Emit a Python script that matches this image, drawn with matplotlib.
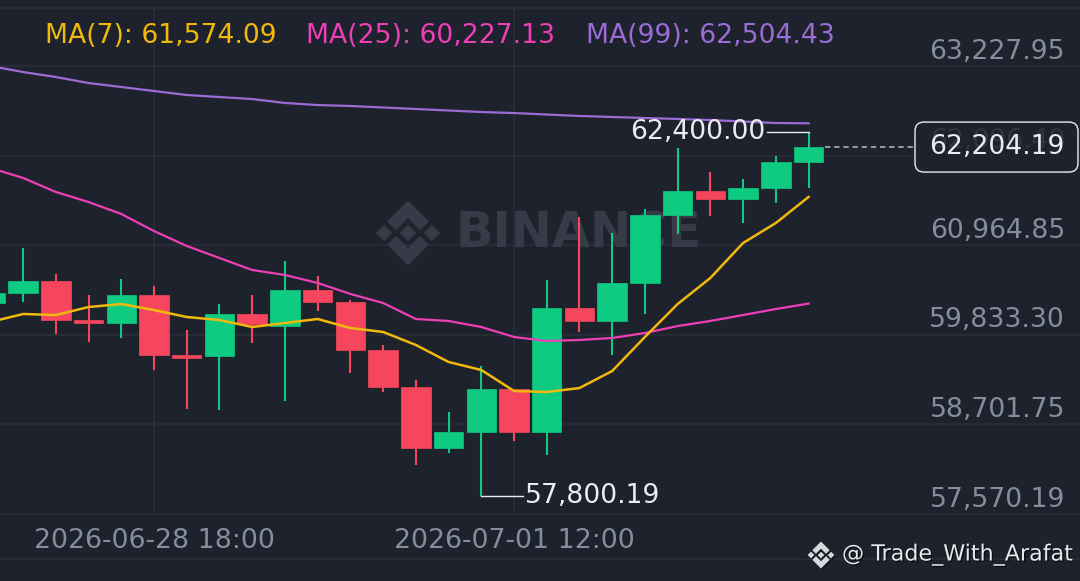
import matplotlib
matplotlib.use("Agg")
import matplotlib.pyplot as plt
import matplotlib.dates as mdates
import matplotlib.transforms as mtransforms
import matplotlib.patheffects as pe
from matplotlib.patches import FancyBboxPatch, Polygon
import numpy as np
import pandas as pd

# ---------------- data ----------------
times = pd.date_range("2026-06-27 12:00", periods=26, freq="6h")
opens = [60235, 60361, 60513, 60020, 59982, 60336, 59578, 59566, 60096, 59944,
         60399, 60248, 59641, 59174, 58404, 58606, 59149, 58606, 60172, 60008,
         60488, 61346, 61649, 61548, 61687, 62016]
highs = [60400, 60930, 60601, 60336, 60538, 60450, 59894, 60222, 60336, 60765,
         60576, 60273, 59705, 59263, 58858, 59439, 59155, 60525, 61321, 61119,
         61422, 62192, 61889, 61801, 62091, 62400.00]
lows = [60200, 60248, 59843, 59742, 59793, 59389, 58896, 58884, 59730, 58997,
        60134, 59351, 59111, 58189, 58341, 57800.19, 58492, 58315, 59869, 59578,
        60096, 61106, 61334, 61245, 61498, 61687]
closes = [60361, 60513, 60020, 59982, 60336, 59578, 59540, 60096, 59970, 60399,
          60248, 59641, 59174, 58404, 58606, 59149, 58606, 60172, 60008, 60488,
          61346, 61649, 61548, 61687, 62016, 62204.19]
ma7 = [59995, 60096, 60083, 60184, 60222, 60146, 60058, 60020, 59932, 59982,
       60033, 59919, 59869, 59705, 59490, 59389, 59124, 59111, 59161, 59376,
       59806, 60222, 60551, 60993, 61245, 61574.09]
ma25 = [61940, 61814, 61637, 61510, 61359, 61144, 60955, 60803, 60652, 60589,
        60488, 60349, 60235, 60033, 60008, 59932, 59806, 59755, 59768, 59793,
        59856, 59944, 60008, 60083, 60159, 60227.13]
ma99 = [63228, 63152, 63089, 63013, 62963, 62912, 62862, 62836, 62811, 62761,
        62735, 62723, 62704, 62685, 62666, 62647, 62634, 62615, 62597, 62584,
        62571, 62559, 62546, 62527, 62508, 62504.43]
price_ticks = [63227.95, 62096.40, 60964.85, 59833.30, 58701.75, 57570.19]
price_labels = ["63,227.95", "62,096.40", "60,964.85", "59,833.30", "58,701.75", "57,570.19"]
date_ticks = ["2026-06-28 18:00", "2026-07-01 12:00"]
legend_items = [("MA(7): 61,574.09", "#F0B90B"),
                ("MA(25): 60,227.13", "#EE3FB6"),
                ("MA(99): 62,504.43", "#9B6BD6")]
last_price = 62204.19
last_label = "62,204.19"
max_label = "62,400.00"
min_label = "57,800.19"
watermark_user = "@ Trade_With_Arafat"

# ---------------- style ----------------
BG = "#1E222D"
GRID = "#2B2F3B"
UP = "#0ECB81"
DOWN = "#F6465D"
AXTXT = "#848E9C"
WHITE = "#EAECEF"
WM = "#363B47"
FONT = "DejaVu Sans"

W, H = 1080, 581
fig = plt.figure(figsize=(W / 100, H / 100), dpi=100, facecolor=BG)
ax = fig.add_axes([0, 0, 1, 1])
ax.set_facecolor(BG)
ax.axis("off")

x = mdates.date2num(times.to_pydatetime())
step = x[1] - x[0]
px_per_day = 32.727 / step
t_ref = mdates.date2num(pd.Timestamp(date_ticks[1]).to_pydatetime())
ax.set_xlim(t_ref - 514 / px_per_day, t_ref + 566 / px_per_day)
ax.set_ylim(56724.0, 64061.5)

# pixel transform (top-left origin)
pix = mtransforms.Affine2D().scale(1 / W, -1 / H).translate(0, 1) + fig.transFigure

# grid
xl = ax.get_xlim()
ax.hlines(price_ticks, xl[0], xl[1], color=GRID, lw=1.1, zorder=1)
for yy in (8, 559):
    ax.add_line(plt.Line2D([0, W], [yy, yy], transform=pix, color=GRID, lw=1.1, zorder=1))
for d in date_ticks:
    xd = mdates.date2num(pd.Timestamp(d).to_pydatetime())
    ax.add_line(plt.Line2D([xd, xd], [price_ticks[-1], 63960], color=GRID, lw=1.1, zorder=1))
    ax.text(xd, 541, d, transform=mtransforms.blended_transform_factory(ax.transData, pix),
            ha="center", va="center", color=AXTXT, fontsize=19.3, family=FONT)

# binance logo helper
def logo(cx, cy, u, color, z, shadow=False):
    shapes = []
    def dia(px_, py_, r):
        return [(px_, py_ + r), (px_ + r, py_), (px_, py_ - r), (px_ - r, py_)]
    shapes.append(dia(0, 0, 0.25))
    shapes.append(dia(-0.74, 0, 0.25))
    shapes.append(dia(0.74, 0, 0.25))
    a, b = 0.645, 0.375
    top = [(0, 1.0), (a, 1 - a), (b, 0.46 - b), (0, 0.46), (-b, 0.46 - b), (-a, 1 - a)]
    shapes.append(top)
    shapes.append([(px_, -py_) for px_, py_ in top])
    for s in shapes:
        pts = [(cx + px_ * u, cy - py_ * u) for px_, py_ in s]
        p = Polygon(pts, closed=True, transform=pix, facecolor=color, edgecolor="none", zorder=z)
        if shadow:
            p.set_path_effects([pe.SimplePatchShadow(offset=(1, -1), shadow_rgbFace="black", alpha=0.5), pe.Normal()])
        ax.add_patch(p)

# watermark
logo(408, 233, 32.5, WM, 2)
ax.text(455, 234, "BINANCE", transform=pix, ha="left", va="center", color=WM,
        fontsize=35.5, fontweight="bold", family=FONT, zorder=2)

# candles
body_w = step * 0.9
for xi, o, h, l, c in zip(x, opens, highs, lows, closes):
    col = UP if c >= o else DOWN
    ax.vlines(xi, l, h, color=col, lw=1.5, zorder=3)
    bot = min(o, c)
    ht = max(abs(c - o), 12)
    ax.bar(xi, ht, bottom=bot, width=body_w, color=col, edgecolor=col, lw=0.5, zorder=3)

# moving averages
ax.plot(x, ma99, color=legend_items[2][1], lw=1.6, zorder=4, solid_joinstyle="round")
ax.plot(x, ma25, color=legend_items[1][1], lw=1.6, zorder=4, solid_joinstyle="round")
ax.plot(x, ma7, color=legend_items[0][1], lw=1.8, zorder=4, solid_joinstyle="round")

# legend
for (txt, col), lx in zip(legend_items, (45, 306, 586)):
    ax.text(lx, 36, txt, transform=pix, ha="left", va="center", color=col,
            fontsize=19.2, family=FONT, zorder=6)

# price axis labels
ylab = mtransforms.offset_copy(mtransforms.blended_transform_factory(ax.transAxes, ax.transData),
                               fig=fig, x=0, y=10.3, units="points")
for p, lab in zip(price_ticks, price_labels):
    ax.text(1065 / W, p, lab, transform=ylab, ha="right", va="center", color=AXTXT,
            fontsize=19.2, family=FONT, zorder=5)

# max / min annotations
imax = int(np.argmax(highs))
imin = int(np.argmin(lows))
off = 42 / px_per_day
ax.plot([x[imax] - off, x[imax]], [highs[imax]] * 2, color=WHITE, lw=1.0, zorder=5)
ax.text(x[imax] - off - 1 / px_per_day, highs[imax], max_label, ha="right", va="center",
        color=WHITE, fontsize=19.2, family=FONT, zorder=6)
ax.plot([x[imin], x[imin] + off], [lows[imin]] * 2, color=WHITE, lw=1.0, zorder=5)
ax.text(x[imin] + off + 2 / px_per_day, lows[imin], min_label, ha="left", va="center",
        color=WHITE, fontsize=19.2, family=FONT, zorder=6)

# last price line and box
fig.canvas.draw()
yp = ax.transData.transform((x[-1], last_price))[1]
y_top = H - yp
x_start = x[-1] + body_w / 2 + 2 / px_per_day
x_box = t_ref + (915 - 514) / px_per_day
ax.plot([x_start, x_box], [last_price] * 2, color="#B7BDC6", lw=1.1, ls=(0, (3.5, 2.5)), zorder=5)
box = FancyBboxPatch((915, y_top - 25), 163, 50, boxstyle="round,pad=0,rounding_size=9",
                     transform=pix, facecolor=BG, alpha=0.82, edgecolor="none", zorder=7)
ax.add_patch(box)
box2 = FancyBboxPatch((915, y_top - 25), 163, 50, boxstyle="round,pad=0,rounding_size=9",
                      transform=pix, facecolor="none", edgecolor=WHITE, lw=1.0, zorder=8)
ax.add_patch(box2)
ax.text(997, y_top, last_label, transform=pix, ha="center", va="center", color=WHITE,
        fontsize=19.2, family=FONT, zorder=9)

# user watermark bottom right
logo(821, 555, 13.5, "#D5D8DC", 8, shadow=True)
ax.text(842, 555, watermark_user, transform=pix, ha="left", va="center", color="#E6E8EA",
        fontsize=16, family=FONT, zorder=9,
        path_effects=[pe.withSimplePatchShadow(offset=(1, -1), shadow_rgbFace="black", alpha=0.6)])

fig.savefig("out.png", dpi=100, facecolor=BG)
